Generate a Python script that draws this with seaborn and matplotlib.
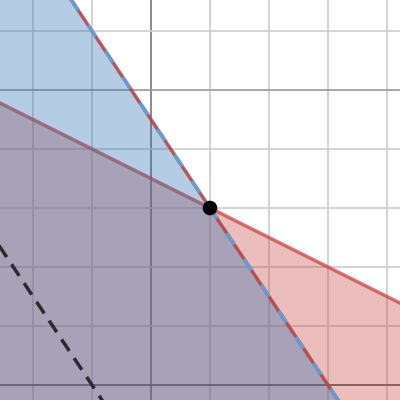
import numpy as np
import pandas as pd
import matplotlib
matplotlib.use("Agg")
import matplotlib.pyplot as plt
import seaborn as sns

# lines y = a + b*x
red_line = (3.5, -0.5)
blue_line = (4.5, -1.5)
black_line = (-1.5, -1.5)
point_x = [1]
point_y = [3]

xmin, xmax = -151/59, 249/59
ymin, ymax = -15/59, 385/59

sns.set_theme(style="white")
fig = plt.figure(figsize=(4, 4), dpi=100)
ax = fig.add_axes([0, 0, 1, 1])
ax.set_xlim(xmin, xmax)
ax.set_ylim(ymin, ymax)

for v in range(-2, 5):
    ax.axvline(v, color="#cccccc" if v != 0 else "#777777", lw=1.2, zorder=0)
for v in range(0, 7):
    c = "#cccccc"
    if v == 0: c = "#555555"
    elif v == 5: c = "#999999"
    ax.axhline(v, color=c, lw=1.2, zorder=0)

xs = np.array([xmin - 1, xmax + 1])
RED, BLUE = "#c74440", "#2d70b3"
ry = red_line[0] + red_line[1] * xs
by = blue_line[0] + blue_line[1] * xs
ky = black_line[0] + black_line[1] * xs
ax.fill_between(xs, ymin - 1, ry, color=RED, alpha=0.35, lw=0, zorder=1)
ax.fill_between(xs, ymin - 1, by, color=BLUE, alpha=0.35, lw=0, zorder=2)

df = pd.DataFrame({"x": np.concatenate([xs, xs, xs]),
                   "y": np.concatenate([ry, by, ky]),
                   "s": ["red"] * 2 + ["blue"] * 2 + ["black"] * 2})
sns.lineplot(data=df[df.s == "red"], x="x", y="y", color=RED, lw=2.5, alpha=0.75, ax=ax, zorder=1.5)
sns.lineplot(data=df[df.s == "blue"], x="x", y="y", color="#b0484c", lw=2.5, alpha=0.9, ax=ax, zorder=3)
l = sns.lineplot(data=df[df.s == "blue"], x="x", y="y", color="#6a9bd0", lw=2.5, ax=ax, zorder=4)
l.lines[-1].set_dashes([4, 5])
sns.lineplot(data=df[df.s == "black"], x="x", y="y", color="#2b2b2b", lw=2.5, ax=ax, zorder=4)
ax.lines[-1].set_dashes([4, 2.5])
sns.scatterplot(x=point_x, y=point_y, color="black", s=110, ax=ax, zorder=5, edgecolor="none")

ax.set_xlim(xmin, xmax)
ax.set_ylim(ymin, ymax)
ax.set_axis_off()
fig.savefig("out.png", dpi=100)
